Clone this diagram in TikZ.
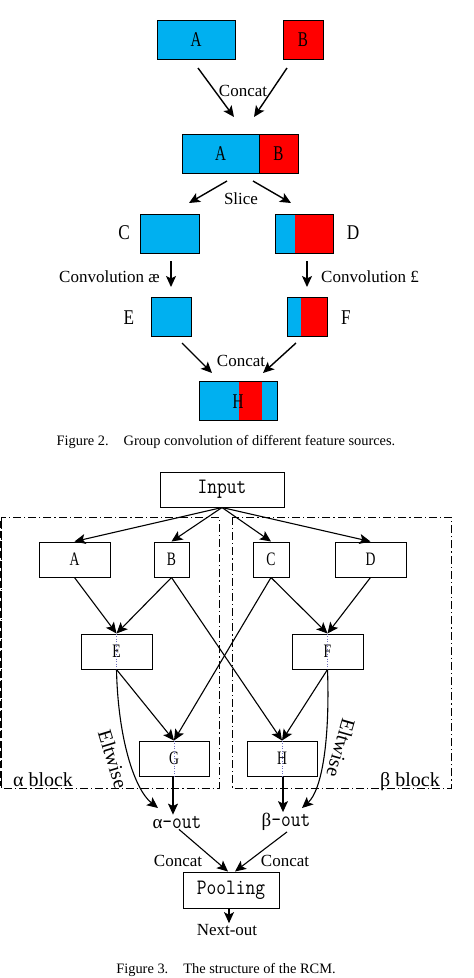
\documentclass[tikz,border=0pt]{standalone}
\usepackage{fontspec}
\setmainfont{Liberation Serif}
\usepackage{graphicx}
\usetikzlibrary{arrows.meta,calc}
\definecolor{cblue}{RGB}{0,176,240}
\definecolor{cred}{RGB}{255,0,0}
\definecolor{dotc}{RGB}{110,110,190}
\newcommand{\nl}[1]{\scalebox{0.72}[1]{\fontsize{21}{21}\selectfont #1}}
\newcommand{\nlb}[1]{\scalebox{0.82}[1]{\fontsize{21}{21}\selectfont #1}}
\newcommand{\nlc}[1]{\scalebox{0.72}[1]{\fontsize{19}{19}\selectfont #1}}
\newcommand{\mn}[1]{\scalebox{0.86}[1]{\ttfamily\fontsize{22}{22}\selectfont #1}}
\begin{document}
\begin{tikzpicture}[x=1pt,y=-1pt,
  bx/.style={draw, line width=1pt, inner sep=0pt, minimum height=39pt},
  bx3/.style={draw, line width=1pt, inner sep=0pt, minimum height=35pt},
  arr/.style={-{Stealth[length=11pt,width=10pt,inset=2.5pt]}, line width=1.4pt},
  arr3/.style={-{Stealth[length=11pt,width=10pt,inset=2.5pt]}, line width=1.1pt},
  lbl/.style={font=\fontsize{17}{20}\selectfont, inner sep=1pt},
  capt/.style={font=\fontsize{14.4}{17}\selectfont, inner sep=0pt},
  dd/.style={line width=1pt, dash pattern=on 8pt off 3pt on 1.2pt off 3pt},
  dotl/.style={dotc, line width=0.8pt, dash pattern=on 1pt off 1.5pt},
  redright/.style={path picture={\fill[cred] ($(path picture bounding box.north east)+(-#1,0)$) rectangle (path picture bounding box.south east);}}
]
\useasboundingbox (0,0) rectangle (474,978);

% ---------------- Figure 2 ----------------
\node[bx, fill=cblue, minimum width=78pt] (A1) at (196,39.5) {\nl{A}};
\node[bx, fill=cred, minimum width=40pt] (B1) at (303,39.5) {\nl{B}};

\node[bx, fill=cblue, minimum width=116pt, redright=39pt] (AB) at (240,153.5) {};
\draw[line width=1pt] (259,134) -- (259,173);
\node[inner sep=0pt] (ABa) at (220.5,153.5) {\nl{A}};
\node[inner sep=0pt] (ABb) at (278.5,153.5) {\nl{B}};

\node[bx, fill=cblue, minimum width=59pt] (C2) at (169.5,233.5) {};
\node[bx, fill=cblue, minimum width=58pt, redright=38pt] (D2) at (304,233.5) {};
\node[bx, fill=cblue, minimum width=40pt] (E2) at (171,316.5) {};
\node[bx, fill=cblue, minimum width=40pt, redright=26pt] (F2) at (307,316.5) {};
\node[bx, fill=cblue, minimum width=78pt,
  path picture={\fill[cred] ($(path picture bounding box.north west)+(40,0)$) rectangle ($(path picture bounding box.south west)+(63,0)$);}] (H2) at (238,400.5) {};
\node[inner sep=0pt] (H2l) at (238,402) {\nl{H}};

\node[inner sep=0pt] (lC) at (124,233) {\nlb{C}};
\node[inner sep=0pt] (lD) at (353,233) {\nlb{D}};
\node[inner sep=0pt] (lE) at (129,318) {\nlb{E}};
\node[inner sep=0pt] (lF) at (346,318) {\nlb{F}};

\coordinate (p1s) at (198,68);  \coordinate (p1e) at (234,117);
\coordinate (p2s) at (287,68);  \coordinate (p2e) at (254,117);
\coordinate (p3s) at (227,181); \coordinate (p3e) at (189,203);
\coordinate (p4s) at (253,181); \coordinate (p4e) at (291,203);
\coordinate (p5s) at (171,261); \coordinate (p5e) at (171,287);
\coordinate (p6s) at (307,261); \coordinate (p6e) at (307,287);
\coordinate (p7s) at (182,343); \coordinate (p7e) at (212,373);
\coordinate (p8s) at (296,343); \coordinate (p8e) at (263,373);
\foreach \i in {1,...,8} \draw[arr] (p\i s) -- (p\i e);

\node[lbl] (cc1) at (243,91) {Concat};
\node[lbl] (sl) at (241,199) {Slice};
\node[lbl, anchor=east] (cv1) at (161,277) {Convolution æ};
\node[lbl, anchor=west] (cv2) at (320,277) {Convolution £};
\node[lbl] (cc2) at (241,361) {Concat};

\node[capt] (cap2) at (226,442) {Figure 2.\hspace{15pt}Group convolution of different feature sources.};

% ---------------- Figure 3 ----------------
\draw[dd] (1.5,517) rectangle (219,788);
\draw[dd] (232,517) rectangle (451,788);
\draw[line width=2.4pt, dash pattern=on 7pt off 3pt] (1.2,521) -- (1.2,786);

\node[bx3, minimum width=124pt] (In) at (222,489.5) {\mn{Input}};
\node[bx3, minimum width=71pt] (A3) at (74.5,559.5) {\nlc{A}};
\node[bx3, minimum width=35pt] (B3) at (171.5,559.5) {\nlc{B}};
\node[bx3, minimum width=36pt] (C3) at (271,559.5) {\nlc{C}};
\node[bx3, minimum width=71pt] (D3) at (370.5,559.5) {\nlc{D}};
\node[bx3, minimum width=71pt] (E3) at (116.5,651.5) {\nlc{E}};
\node[bx3, minimum width=71pt] (F3) at (327.5,651.5) {\nlc{F}};
\node[bx3, minimum width=70pt] (G3) at (174,758.5) {\nlc{G}};
\node[bx3, minimum width=70pt] (H3) at (282,758.5) {\nlc{H}};
\foreach \n in {E3,F3,G3,H3} \draw[dotl] (\n.north) -- (\n.south);

\node[inner sep=1pt] (aout) at (177,822) {\fontsize{19}{19}\selectfont α\mn{-out}};
\node[inner sep=1pt] (bout) at (286,822) {\fontsize{19}{19}\selectfont β\mn{-out}};
\node[bx3, minimum width=96pt, minimum height=36pt] (Pool) at (231,890) {\mn{Pooling}};
\node[lbl] (next) at (227,930) {Next-out};

\foreach \t in {A3,B3,C3,D3} \draw[arr3] (In.south) -- (\t.north);
\draw[arr3] (A3.south) -- (E3.north);
\draw[arr3] (B3.south) -- (E3.north);
\draw[arr3] (B3.south) -- (H3.north);
\draw[arr3] (C3.south) -- (G3.north);
\draw[arr3] (C3.south) -- (F3.north);
\draw[arr3] (D3.south) -- (F3.north);
\draw[arr3] (E3.south) -- (G3.north);
\draw[arr3] (F3.south) -- (H3.north);
\draw[arr3] ([xshift=-1pt]G3.south) -- ([xshift=-1pt]G3.south |- aout.north);
\draw[arr3] ([xshift=1pt]H3.south) -- ([xshift=1pt]H3.south |- bout.north);

\coordinate (aoL) at (158,808);
\coordinate (boR) at (302,808);
\draw[arr3] (E3.south) .. controls (118,740) and (135,790) .. (aoL);
\draw[arr3] (F3.south) .. controls (330,740) and (322,790) .. (boR);
\node[font=\fontsize{20}{20}\selectfont, rotate=-73, inner sep=0pt] (el1) at (113,759) {Eltwise};
\node[font=\fontsize{20}{20}\selectfont, rotate=-106, inner sep=0pt] (el2) at (341,748) {Eltwise};

\node[font=\fontsize{20}{20}\selectfont, inner sep=0pt, anchor=base] (ab) at (43,786) {α block};
\node[font=\fontsize{20}{20}\selectfont, inner sep=0pt, anchor=base] (bb) at (410,786) {β block};

\draw[arr3] ([xshift=2pt]aout.south) -- ([xshift=-3pt]Pool.north);
\draw[arr3] ([xshift=1pt]bout.south) -- ([xshift=4pt]Pool.north);
\node[lbl] (cc3) at (178,861) {Concat};
\node[lbl] (cc4) at (285,861) {Concat};
\draw[arr3] ([xshift=-2pt]Pool.south) -- ([xshift=-2pt]Pool.south |- next.north);

\node[capt] (cap3) at (226,970) {Figure 3.\hspace{15pt}The structure of the RCM.};
\end{tikzpicture}
\end{document}
